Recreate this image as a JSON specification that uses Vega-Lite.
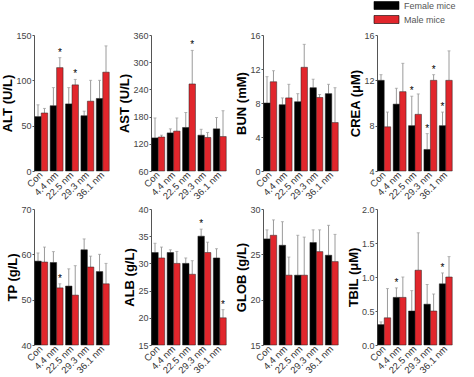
{
"$schema":"https://vega.github.io/schema/vega-lite/v6.json",
"padding":{"left":1,"top":0,"right":0,"bottom":0},
"background":"white",
"datasets":{"d":[
{"t":"ALT","g":"Con","s":"Female mice","v":60,"hi":73},
{"t":"ALT","g":"Con","s":"Male mice","v":64,"hi":69},
{"t":"ALT","g":"4.4 nm","s":"Female mice","v":72,"hi":92},
{"t":"ALT","g":"4.4 nm","s":"Male mice","v":114,"hi":125,"st":"*"},
{"t":"ALT","g":"22.5 nm","s":"Female mice","v":74,"hi":92},
{"t":"ALT","g":"22.5 nm","s":"Male mice","v":95,"hi":101,"st":"*"},
{"t":"ALT","g":"29.3 nm","s":"Female mice","v":61,"hi":66},
{"t":"ALT","g":"29.3 nm","s":"Male mice","v":77,"hi":100},
{"t":"ALT","g":"36.1 nm","s":"Female mice","v":80,"hi":100},
{"t":"ALT","g":"36.1 nm","s":"Male mice","v":109,"hi":138},
{"t":"AST","g":"Con","s":"Female mice","v":133,"hi":177},
{"t":"AST","g":"Con","s":"Male mice","v":135,"hi":139},
{"t":"AST","g":"4.4 nm","s":"Female mice","v":144,"hi":153},
{"t":"AST","g":"4.4 nm","s":"Male mice","v":148,"hi":177},
{"t":"AST","g":"22.5 nm","s":"Female mice","v":156,"hi":189},
{"t":"AST","g":"22.5 nm","s":"Male mice","v":252,"hi":326,"st":"*"},
{"t":"AST","g":"29.3 nm","s":"Female mice","v":139,"hi":152},
{"t":"AST","g":"29.3 nm","s":"Male mice","v":134,"hi":145},
{"t":"AST","g":"36.1 nm","s":"Female mice","v":153,"hi":178},
{"t":"AST","g":"36.1 nm","s":"Male mice","v":136,"hi":193},
{"t":"BUN","g":"Con","s":"Female mice","v":8.0,"hi":11.1},
{"t":"BUN","g":"Con","s":"Male mice","v":10.5,"hi":11.8},
{"t":"BUN","g":"4.4 nm","s":"Female mice","v":7.8,"hi":8.6},
{"t":"BUN","g":"4.4 nm","s":"Male mice","v":8.6,"hi":10.2},
{"t":"BUN","g":"22.5 nm","s":"Female mice","v":8.15,"hi":9.1},
{"t":"BUN","g":"22.5 nm","s":"Male mice","v":12.2,"hi":14.9},
{"t":"BUN","g":"29.3 nm","s":"Female mice","v":9.8,"hi":10.8},
{"t":"BUN","g":"29.3 nm","s":"Male mice","v":8.65,"hi":9.0},
{"t":"BUN","g":"36.1 nm","s":"Female mice","v":9.1,"hi":10.2},
{"t":"BUN","g":"36.1 nm","s":"Male mice","v":5.7,"hi":9.8},
{"t":"CREA","g":"Con","s":"Female mice","v":12,"hi":12.5},
{"t":"CREA","g":"Con","s":"Male mice","v":7.9,"hi":9.2},
{"t":"CREA","g":"4.4 nm","s":"Female mice","v":9.9,"hi":11.3},
{"t":"CREA","g":"4.4 nm","s":"Male mice","v":11,"hi":13.5},
{"t":"CREA","g":"22.5 nm","s":"Female mice","v":8,"hi":10.6,"st":"*"},
{"t":"CREA","g":"22.5 nm","s":"Male mice","v":9,"hi":10.8},
{"t":"CREA","g":"29.3 nm","s":"Female mice","v":5.9,"hi":7.3,"st":"*"},
{"t":"CREA","g":"29.3 nm","s":"Male mice","v":12,"hi":12.5,"st":"*"},
{"t":"CREA","g":"36.1 nm","s":"Female mice","v":8,"hi":9.2,"st":"*"},
{"t":"CREA","g":"36.1 nm","s":"Male mice","v":12,"hi":14.6},
{"t":"TP","g":"Con","s":"Female mice","v":58.5,"hi":60.3},
{"t":"TP","g":"Con","s":"Male mice","v":58.3,"hi":61.6},
{"t":"TP","g":"4.4 nm","s":"Female mice","v":58.2,"hi":60.6},
{"t":"TP","g":"4.4 nm","s":"Male mice","v":52.6,"hi":53.5,"st":"*"},
{"t":"TP","g":"22.5 nm","s":"Female mice","v":53,"hi":56.8},
{"t":"TP","g":"22.5 nm","s":"Male mice","v":51,"hi":57.5},
{"t":"TP","g":"29.3 nm","s":"Female mice","v":61,"hi":63.4},
{"t":"TP","g":"29.3 nm","s":"Male mice","v":57.2,"hi":59.6},
{"t":"TP","g":"36.1 nm","s":"Female mice","v":56.2,"hi":60},
{"t":"TP","g":"36.1 nm","s":"Male mice","v":53.5,"hi":58},
{"t":"ALB","g":"Con","s":"Female mice","v":32,"hi":33.7},
{"t":"ALB","g":"Con","s":"Male mice","v":31,"hi":33},
{"t":"ALB","g":"4.4 nm","s":"Female mice","v":32,"hi":32.5},
{"t":"ALB","g":"4.4 nm","s":"Male mice","v":30,"hi":32.2},
{"t":"ALB","g":"22.5 nm","s":"Female mice","v":30,"hi":31},
{"t":"ALB","g":"22.5 nm","s":"Male mice","v":28,"hi":30.5},
{"t":"ALB","g":"29.3 nm","s":"Female mice","v":35,"hi":36.3,"st":"*"},
{"t":"ALB","g":"29.3 nm","s":"Male mice","v":32,"hi":33.9},
{"t":"ALB","g":"36.1 nm","s":"Female mice","v":31,"hi":32.7},
{"t":"ALB","g":"36.1 nm","s":"Male mice","v":20,"hi":21.5,"st":"*"},
{"t":"GLOB","g":"Con","s":"Female mice","v":26.7,"hi":27.7},
{"t":"GLOB","g":"Con","s":"Male mice","v":27.1,"hi":28.8},
{"t":"GLOB","g":"4.4 nm","s":"Female mice","v":26,"hi":28.6},
{"t":"GLOB","g":"4.4 nm","s":"Male mice","v":22.7,"hi":24.7},
{"t":"GLOB","g":"22.5 nm","s":"Female mice","v":22.7,"hi":27.1},
{"t":"GLOB","g":"22.5 nm","s":"Male mice","v":22.7,"hi":26.9},
{"t":"GLOB","g":"29.3 nm","s":"Female mice","v":26.3,"hi":27.7},
{"t":"GLOB","g":"29.3 nm","s":"Male mice","v":25.3,"hi":27.7},
{"t":"GLOB","g":"36.1 nm","s":"Female mice","v":24.9,"hi":28.2},
{"t":"GLOB","g":"36.1 nm","s":"Male mice","v":24.2,"hi":27.2},
{"t":"TBIL","g":"Con","s":"Female mice","v":0.3,"hi":0.34},
{"t":"TBIL","g":"Con","s":"Male mice","v":0.4,"hi":0.83},
{"t":"TBIL","g":"4.4 nm","s":"Female mice","v":0.7,"hi":0.84,"st":"*"},
{"t":"TBIL","g":"4.4 nm","s":"Male mice","v":0.7,"hi":1.0},
{"t":"TBIL","g":"22.5 nm","s":"Female mice","v":0.5,"hi":0.8},
{"t":"TBIL","g":"22.5 nm","s":"Male mice","v":1.1,"hi":1.65},
{"t":"TBIL","g":"29.3 nm","s":"Female mice","v":0.6,"hi":0.89},
{"t":"TBIL","g":"29.3 nm","s":"Male mice","v":0.5,"hi":0.75},
{"t":"TBIL","g":"36.1 nm","s":"Female mice","v":0.9,"hi":1.06,"st":"*"},
{"t":"TBIL","g":"36.1 nm","s":"Male mice","v":1.0,"hi":1.3}
]},
"data":{"name":"d"},
"columns":4,
"spacing":{"row":4,"column":8},
"resolve":{"scale":{"color":"shared"},"legend":{"color":"shared"}},
"concat":[
{"width":76,"height":136,"transform":[{"filter":"datum.t=='ALT'"}],
 "encoding":{"x":{"field":"g","type":"nominal","sort":["Con","4.4 nm","22.5 nm","29.3 nm","36.1 nm"],"scale":{"paddingInner":0.16,"paddingOuter":0.05},"axis":{"title":null}},
  "xOffset":{"field":"s","type":"nominal","sort":["Female mice","Male mice"]},
  "y":{"field":"v","type":"quantitative","scale":{"domain":[0,150],"nice":false,"zero":false},"axis":{"title":"ALT (U/L)","values":[0,50,100,150]}}},
 "layer":[
  {"mark":{"type":"rule","color":"#9a9a9a","strokeWidth":1},"encoding":{"y2":{"field":"hi"}}},
  {"mark":{"type":"tick","color":"#9a9a9a","size":3,"thickness":1},"encoding":{"y":{"field":"hi","type":"quantitative","title":"ALT (U/L)"}}},
  {"mark":{"type":"bar","stroke":"#222","strokeWidth":0.5},"encoding":{"y2":{"datum":0},"color":{"field":"s","type":"nominal","scale":{"domain":["Female mice","Male mice"],"range":["#000000","#e1262c"]}}}},
  {"transform":[{"filter":"datum.st"}],"mark":{"type":"text","dy":-5,"fontSize":10,"fill":"#000"},"encoding":{"y":{"field":"hi","type":"quantitative","title":"ALT (U/L)"},"text":{"field":"st"}}}
 ]},
{"width":76,"height":136,"transform":[{"filter":"datum.t=='AST'"}],
 "encoding":{"x":{"field":"g","type":"nominal","sort":["Con","4.4 nm","22.5 nm","29.3 nm","36.1 nm"],"scale":{"paddingInner":0.16,"paddingOuter":0.05},"axis":{"title":null}},
  "xOffset":{"field":"s","type":"nominal","sort":["Female mice","Male mice"]},
  "y":{"field":"v","type":"quantitative","scale":{"domain":[60,360],"nice":false,"zero":false},"axis":{"title":"AST (U/L)","values":[60,120,180,240,300,360]}}},
 "layer":[
  {"mark":{"type":"rule","color":"#9a9a9a","strokeWidth":1},"encoding":{"y2":{"field":"hi"}}},
  {"mark":{"type":"tick","color":"#9a9a9a","size":3,"thickness":1},"encoding":{"y":{"field":"hi","type":"quantitative","title":"AST (U/L)"}}},
  {"mark":{"type":"bar","stroke":"#222","strokeWidth":0.5},"encoding":{"y2":{"datum":60},"color":{"field":"s","type":"nominal","scale":{"domain":["Female mice","Male mice"],"range":["#000000","#e1262c"]}}}},
  {"transform":[{"filter":"datum.st"}],"mark":{"type":"text","dy":-5,"fontSize":10,"fill":"#000"},"encoding":{"y":{"field":"hi","type":"quantitative","title":"AST (U/L)"},"text":{"field":"st"}}}
 ]},
{"width":76,"height":136,"transform":[{"filter":"datum.t=='BUN'"}],
 "encoding":{"x":{"field":"g","type":"nominal","sort":["Con","4.4 nm","22.5 nm","29.3 nm","36.1 nm"],"scale":{"paddingInner":0.16,"paddingOuter":0.05},"axis":{"title":null}},
  "xOffset":{"field":"s","type":"nominal","sort":["Female mice","Male mice"]},
  "y":{"field":"v","type":"quantitative","scale":{"domain":[0,16],"nice":false,"zero":false},"axis":{"title":"BUN (mM)","values":[0,4,8,12,16]}}},
 "layer":[
  {"mark":{"type":"rule","color":"#9a9a9a","strokeWidth":1},"encoding":{"y2":{"field":"hi"}}},
  {"mark":{"type":"tick","color":"#9a9a9a","size":3,"thickness":1},"encoding":{"y":{"field":"hi","type":"quantitative","title":"BUN (mM)"}}},
  {"mark":{"type":"bar","stroke":"#222","strokeWidth":0.5},"encoding":{"y2":{"datum":0},"color":{"field":"s","type":"nominal","scale":{"domain":["Female mice","Male mice"],"range":["#000000","#e1262c"]}}}},
  {"transform":[{"filter":"datum.st"}],"mark":{"type":"text","dy":-5,"fontSize":10,"fill":"#000"},"encoding":{"y":{"field":"hi","type":"quantitative","title":"BUN (mM)"},"text":{"field":"st"}}}
 ]},
{"width":76,"height":136,"transform":[{"filter":"datum.t=='CREA'"}],
 "encoding":{"x":{"field":"g","type":"nominal","sort":["Con","4.4 nm","22.5 nm","29.3 nm","36.1 nm"],"scale":{"paddingInner":0.16,"paddingOuter":0.05},"axis":{"title":null}},
  "xOffset":{"field":"s","type":"nominal","sort":["Female mice","Male mice"]},
  "y":{"field":"v","type":"quantitative","scale":{"domain":[4,16],"nice":false,"zero":false},"axis":{"title":"CREA (μM)","values":[4,8,12,16]}}},
 "layer":[
  {"mark":{"type":"rule","color":"#9a9a9a","strokeWidth":1},"encoding":{"y2":{"field":"hi"}}},
  {"mark":{"type":"tick","color":"#9a9a9a","size":3,"thickness":1},"encoding":{"y":{"field":"hi","type":"quantitative","title":"CREA (μM)"}}},
  {"mark":{"type":"bar","stroke":"#222","strokeWidth":0.5},"encoding":{"y2":{"datum":4},"color":{"field":"s","type":"nominal","scale":{"domain":["Female mice","Male mice"],"range":["#000000","#e1262c"]}}}},
  {"transform":[{"filter":"datum.st"}],"mark":{"type":"text","dy":-5,"fontSize":10,"fill":"#000"},"encoding":{"y":{"field":"hi","type":"quantitative","title":"CREA (μM)"},"text":{"field":"st"}}}
 ]},
{"width":76,"height":136,"transform":[{"filter":"datum.t=='TP'"}],
 "encoding":{"x":{"field":"g","type":"nominal","sort":["Con","4.4 nm","22.5 nm","29.3 nm","36.1 nm"],"scale":{"paddingInner":0.16,"paddingOuter":0.05},"axis":{"title":null}},
  "xOffset":{"field":"s","type":"nominal","sort":["Female mice","Male mice"]},
  "y":{"field":"v","type":"quantitative","scale":{"domain":[40,70],"nice":false,"zero":false},"axis":{"title":"TP (g/L)","values":[40,50,60,70]}}},
 "layer":[
  {"mark":{"type":"rule","color":"#9a9a9a","strokeWidth":1},"encoding":{"y2":{"field":"hi"}}},
  {"mark":{"type":"tick","color":"#9a9a9a","size":3,"thickness":1},"encoding":{"y":{"field":"hi","type":"quantitative","title":"TP (g/L)"}}},
  {"mark":{"type":"bar","stroke":"#222","strokeWidth":0.5},"encoding":{"y2":{"datum":40},"color":{"field":"s","type":"nominal","scale":{"domain":["Female mice","Male mice"],"range":["#000000","#e1262c"]}}}},
  {"transform":[{"filter":"datum.st"}],"mark":{"type":"text","dy":-5,"fontSize":10,"fill":"#000"},"encoding":{"y":{"field":"hi","type":"quantitative","title":"TP (g/L)"},"text":{"field":"st"}}}
 ]},
{"width":76,"height":136,"transform":[{"filter":"datum.t=='ALB'"}],
 "encoding":{"x":{"field":"g","type":"nominal","sort":["Con","4.4 nm","22.5 nm","29.3 nm","36.1 nm"],"scale":{"paddingInner":0.16,"paddingOuter":0.05},"axis":{"title":null}},
  "xOffset":{"field":"s","type":"nominal","sort":["Female mice","Male mice"]},
  "y":{"field":"v","type":"quantitative","scale":{"domain":[15,40],"nice":false,"zero":false},"axis":{"title":"ALB (g/L)","values":[15,20,25,30,35,40]}}},
 "layer":[
  {"mark":{"type":"rule","color":"#9a9a9a","strokeWidth":1},"encoding":{"y2":{"field":"hi"}}},
  {"mark":{"type":"tick","color":"#9a9a9a","size":3,"thickness":1},"encoding":{"y":{"field":"hi","type":"quantitative","title":"ALB (g/L)"}}},
  {"mark":{"type":"bar","stroke":"#222","strokeWidth":0.5},"encoding":{"y2":{"datum":15},"color":{"field":"s","type":"nominal","scale":{"domain":["Female mice","Male mice"],"range":["#000000","#e1262c"]}}}},
  {"transform":[{"filter":"datum.st"}],"mark":{"type":"text","dy":-5,"fontSize":10,"fill":"#000"},"encoding":{"y":{"field":"hi","type":"quantitative","title":"ALB (g/L)"},"text":{"field":"st"}}}
 ]},
{"width":76,"height":136,"transform":[{"filter":"datum.t=='GLOB'"}],
 "encoding":{"x":{"field":"g","type":"nominal","sort":["Con","4.4 nm","22.5 nm","29.3 nm","36.1 nm"],"scale":{"paddingInner":0.16,"paddingOuter":0.05},"axis":{"title":null}},
  "xOffset":{"field":"s","type":"nominal","sort":["Female mice","Male mice"]},
  "y":{"field":"v","type":"quantitative","scale":{"domain":[15,30],"nice":false,"zero":false},"axis":{"title":"GLOB (g/L)","values":[15,20,25,30]}}},
 "layer":[
  {"mark":{"type":"rule","color":"#9a9a9a","strokeWidth":1},"encoding":{"y2":{"field":"hi"}}},
  {"mark":{"type":"tick","color":"#9a9a9a","size":3,"thickness":1},"encoding":{"y":{"field":"hi","type":"quantitative","title":"GLOB (g/L)"}}},
  {"mark":{"type":"bar","stroke":"#222","strokeWidth":0.5},"encoding":{"y2":{"datum":15},"color":{"field":"s","type":"nominal","scale":{"domain":["Female mice","Male mice"],"range":["#000000","#e1262c"]}}}},
  {"transform":[{"filter":"datum.st"}],"mark":{"type":"text","dy":-5,"fontSize":10,"fill":"#000"},"encoding":{"y":{"field":"hi","type":"quantitative","title":"GLOB (g/L)"},"text":{"field":"st"}}}
 ]},
{"width":76,"height":136,"transform":[{"filter":"datum.t=='TBIL'"}],
 "encoding":{"x":{"field":"g","type":"nominal","sort":["Con","4.4 nm","22.5 nm","29.3 nm","36.1 nm"],"scale":{"paddingInner":0.16,"paddingOuter":0.05},"axis":{"title":null}},
  "xOffset":{"field":"s","type":"nominal","sort":["Female mice","Male mice"]},
  "y":{"field":"v","type":"quantitative","scale":{"domain":[0,2],"nice":false,"zero":false},"axis":{"title":"TBIL (μM)","values":[0,0.5,1,1.5,2],"format":".1f"}}},
 "layer":[
  {"mark":{"type":"rule","color":"#9a9a9a","strokeWidth":1},"encoding":{"y2":{"field":"hi"}}},
  {"mark":{"type":"tick","color":"#9a9a9a","size":3,"thickness":1},"encoding":{"y":{"field":"hi","type":"quantitative","title":"TBIL (μM)"}}},
  {"mark":{"type":"bar","stroke":"#222","strokeWidth":0.5},"encoding":{"y2":{"datum":0},"color":{"field":"s","type":"nominal","scale":{"domain":["Female mice","Male mice"],"range":["#000000","#e1262c"]}}}},
  {"transform":[{"filter":"datum.st"}],"mark":{"type":"text","dy":-5,"fontSize":10,"fill":"#000"},"encoding":{"y":{"field":"hi","type":"quantitative","title":"TBIL (μM)"},"text":{"field":"st"}}}
 ]}
],
"config":{
 "view":{"stroke":null},
 "font":"Liberation Sans",
 "legend":{"orient":"none","legendX":347,"legendY":-35,"padding":0,"title":null,"symbolType":"M-2.5,-0.8H2.5V0.8H-2.5Z","symbolSize":100,"symbolStrokeColor":"#000","symbolStrokeWidth":0.6,"symbolOpacity":1,"labelFontSize":9,"labelColor":"#555","labelFont":"Liberation Sans","labelOffset":12,"rowPadding":3},
 "axis":{"grid":false,"labelFont":"Liberation Sans","labelFontSize":9,"labelColor":"#444","titleFont":"Liberation Sans","titleFontSize":13,"titleFontWeight":"bold","titleColor":"#000","domainColor":"#555","tickColor":"#555","tickSize":2,"labelPadding":1,"titlePadding":1},
 "axisX":{"labelAngle":-45,"labelAlign":"right","labelBaseline":"middle","labelOverlap":false,"domain":false,"ticks":false,"labelPadding":2,"labelColor":"#333","labelFontSize":9.5}
}
}
